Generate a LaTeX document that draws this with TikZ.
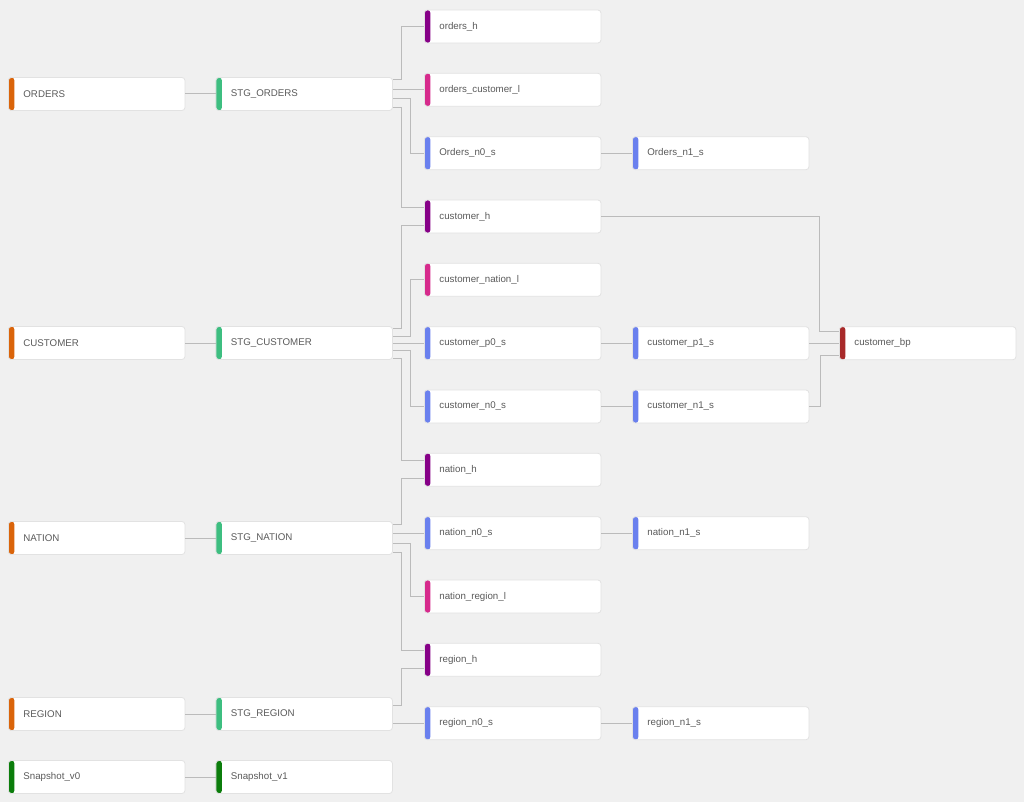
\documentclass[tikz,border=0pt]{standalone}
\usepackage{fontspec}
\setmainfont{Liberation Sans}
\usetikzlibrary{calc}
\definecolor{bg}{HTML}{F0F0F0}
\definecolor{boxline}{HTML}{E2E2E2}
\definecolor{edge}{HTML}{BBBBBB}
\definecolor{txt}{HTML}{5A5A5A}
\definecolor{cSrc}{HTML}{DA640A}
\definecolor{cStg}{HTML}{3DBE80}
\definecolor{cHub}{HTML}{860087}
\definecolor{cLnk}{HTML}{D62A8C}
\definecolor{cSat}{HTML}{6A80EE}
\definecolor{cBp}{HTML}{A82A2A}
\definecolor{cSnap}{HTML}{0B7D0B}
\tikzset{
  box/.style={draw=boxline, fill=white, rounded corners=2.25pt, line width=0.6pt,
    minimum height=24.75pt, text width=109.9pt, inner xsep=11.25pt, inner ysep=0pt,
    align=left, font=\fontsize{7.3}{8}\selectfont, text=txt, anchor=west,
    path picture={\fill[#1] (path picture bounding box.south west) rectangle ([xshift=4.5pt]path picture bounding box.north west);}},
  link/.style={draw=edge, line width=0.75pt},
}
\begin{document}
\begin{tikzpicture}[x=0.75pt,y=-0.75pt]
\fill[bg] (0,0) rectangle (1024,802);
\useasboundingbox (0,0) rectangle (1024,802);
% column 0
\node[box=cSrc] (ord) at (8,94) {ORDERS};
\node[box=cSrc] (cus) at (8,343) {CUSTOMER};
\node[box=cSrc] (nat) at (8,538) {NATION};
\node[box=cSrc] (reg) at (8,714) {REGION};
\node[box=cSnap] (sv0) at (8,777) {Snapshot\_v0};
% column 1
\node[box=cStg] (stgo) at (215.5,94) {STG\_ORDERS};
\node[box=cStg] (stgc) at (215.5,343) {STG\_CUSTOMER};
\node[box=cStg] (stgn) at (215.5,538) {STG\_NATION};
\node[box=cStg] (stgr) at (215.5,714) {STG\_REGION};
\node[box=cSnap] (sv1) at (215.5,777) {Snapshot\_v1};
% column 2
\node[box=cHub] (oh) at (424,26.5) {orders\_h};
\node[box=cLnk] (ocl) at (424,89.8) {orders\_customer\_l};
\node[box=cSat] (on0) at (424,153.2) {Orders\_n0\_s};
\node[box=cHub] (ch) at (424,216.5) {customer\_h};
\node[box=cLnk] (cnl) at (424,279.8) {customer\_nation\_l};
\node[box=cSat] (cp0) at (424,343.2) {customer\_p0\_s};
\node[box=cSat] (cn0) at (424,406.5) {customer\_n0\_s};
\node[box=cHub] (nh) at (424,469.8) {nation\_h};
\node[box=cSat] (nn0) at (424,533.2) {nation\_n0\_s};
\node[box=cLnk] (nrl) at (424,596.5) {nation\_region\_l};
\node[box=cHub] (rh) at (424,659.8) {region\_h};
\node[box=cSat] (rn0) at (424,723.2) {region\_n0\_s};
% column 3
\node[box=cSat] (on1) at (632,153.2) {Orders\_n1\_s};
\node[box=cSat] (cp1) at (632,343.2) {customer\_p1\_s};
\node[box=cSat] (cn1) at (632,406.5) {customer\_n1\_s};
\node[box=cSat] (nn1) at (632,533.2) {nation\_n1\_s};
\node[box=cSat] (rn1) at (632,723.2) {region\_n1\_s};
% column 4
\node[box=cBp] (cbp) at (839,343.2) {customer\_bp};
% straight links col0 -> col1
\draw[link] (ord) -- (stgo);
\draw[link] (cus) -- (stgc);
\draw[link] (nat) -- (stgn);
\draw[link] (reg) -- (stgr);
\draw[link] (sv0) -- (sv1);
% col2 -> col3
\draw[link] (on0) -- (on1);
\draw[link] (cp0) -- (cp1);
\draw[link] (cn0) -- (cn1);
\draw[link] (nn0) -- (nn1);
\draw[link] (rn0) -- (rn1);
% STG_ORDERS
\draw[link] ($(stgo.east)+(0,-14)$) -- ++(9,0) |- (oh.west);
\draw[link] (stgo.east |- ocl.west) -- (ocl.west);
\draw[link] ($(stgo.east)+(0,5)$) -- ++(18,0) |- (on0.west);
\draw[link] ($(stgo.east)+(0,14)$) -- ++(9,0) |- ($(ch.west)+(0,-9)$);
% STG_CUSTOMER
\draw[link] ($(stgc.east)+(0,-15)$) -- ++(9,0) |- ($(ch.west)+(0,9)$);
\draw[link] ($(stgc.east)+(0,-7)$) -- ++(18,0) |- (cnl.west);
\draw[link] (stgc.east |- cp0.west) -- (cp0.west);
\draw[link] ($(stgc.east)+(0,7)$) -- ++(18,0) |- (cn0.west);
\draw[link] ($(stgc.east)+(0,15)$) -- ++(9,0) |- ($(nh.west)+(0,-9)$);
% STG_NATION
\draw[link] ($(stgn.east)+(0,-14)$) -- ++(9,0) |- ($(nh.west)+(0,9)$);
\draw[link] (stgn.east |- nn0.west) -- (nn0.west);
\draw[link] ($(stgn.east)+(0,5)$) -- ++(18,0) |- (nrl.west);
\draw[link] ($(stgn.east)+(0,14)$) -- ++(9,0) |- ($(rh.west)+(0,-9)$);
% STG_REGION
\draw[link] ($(stgr.east)+(0,-9)$) -- ++(9,0) |- ($(rh.west)+(0,9)$);
\draw[link] (stgr.east |- rn0.west) -- (rn0.west);
% to customer_bp
\draw[link] (ch.east) -- ++(218,0) |- ($(cbp.west)+(0,-12)$);
\draw[link] (cp1) -- (cbp);
\draw[link] (cn1.east) -- ++(11,0) |- ($(cbp.west)+(0,12)$);
\end{tikzpicture}
\end{document}
